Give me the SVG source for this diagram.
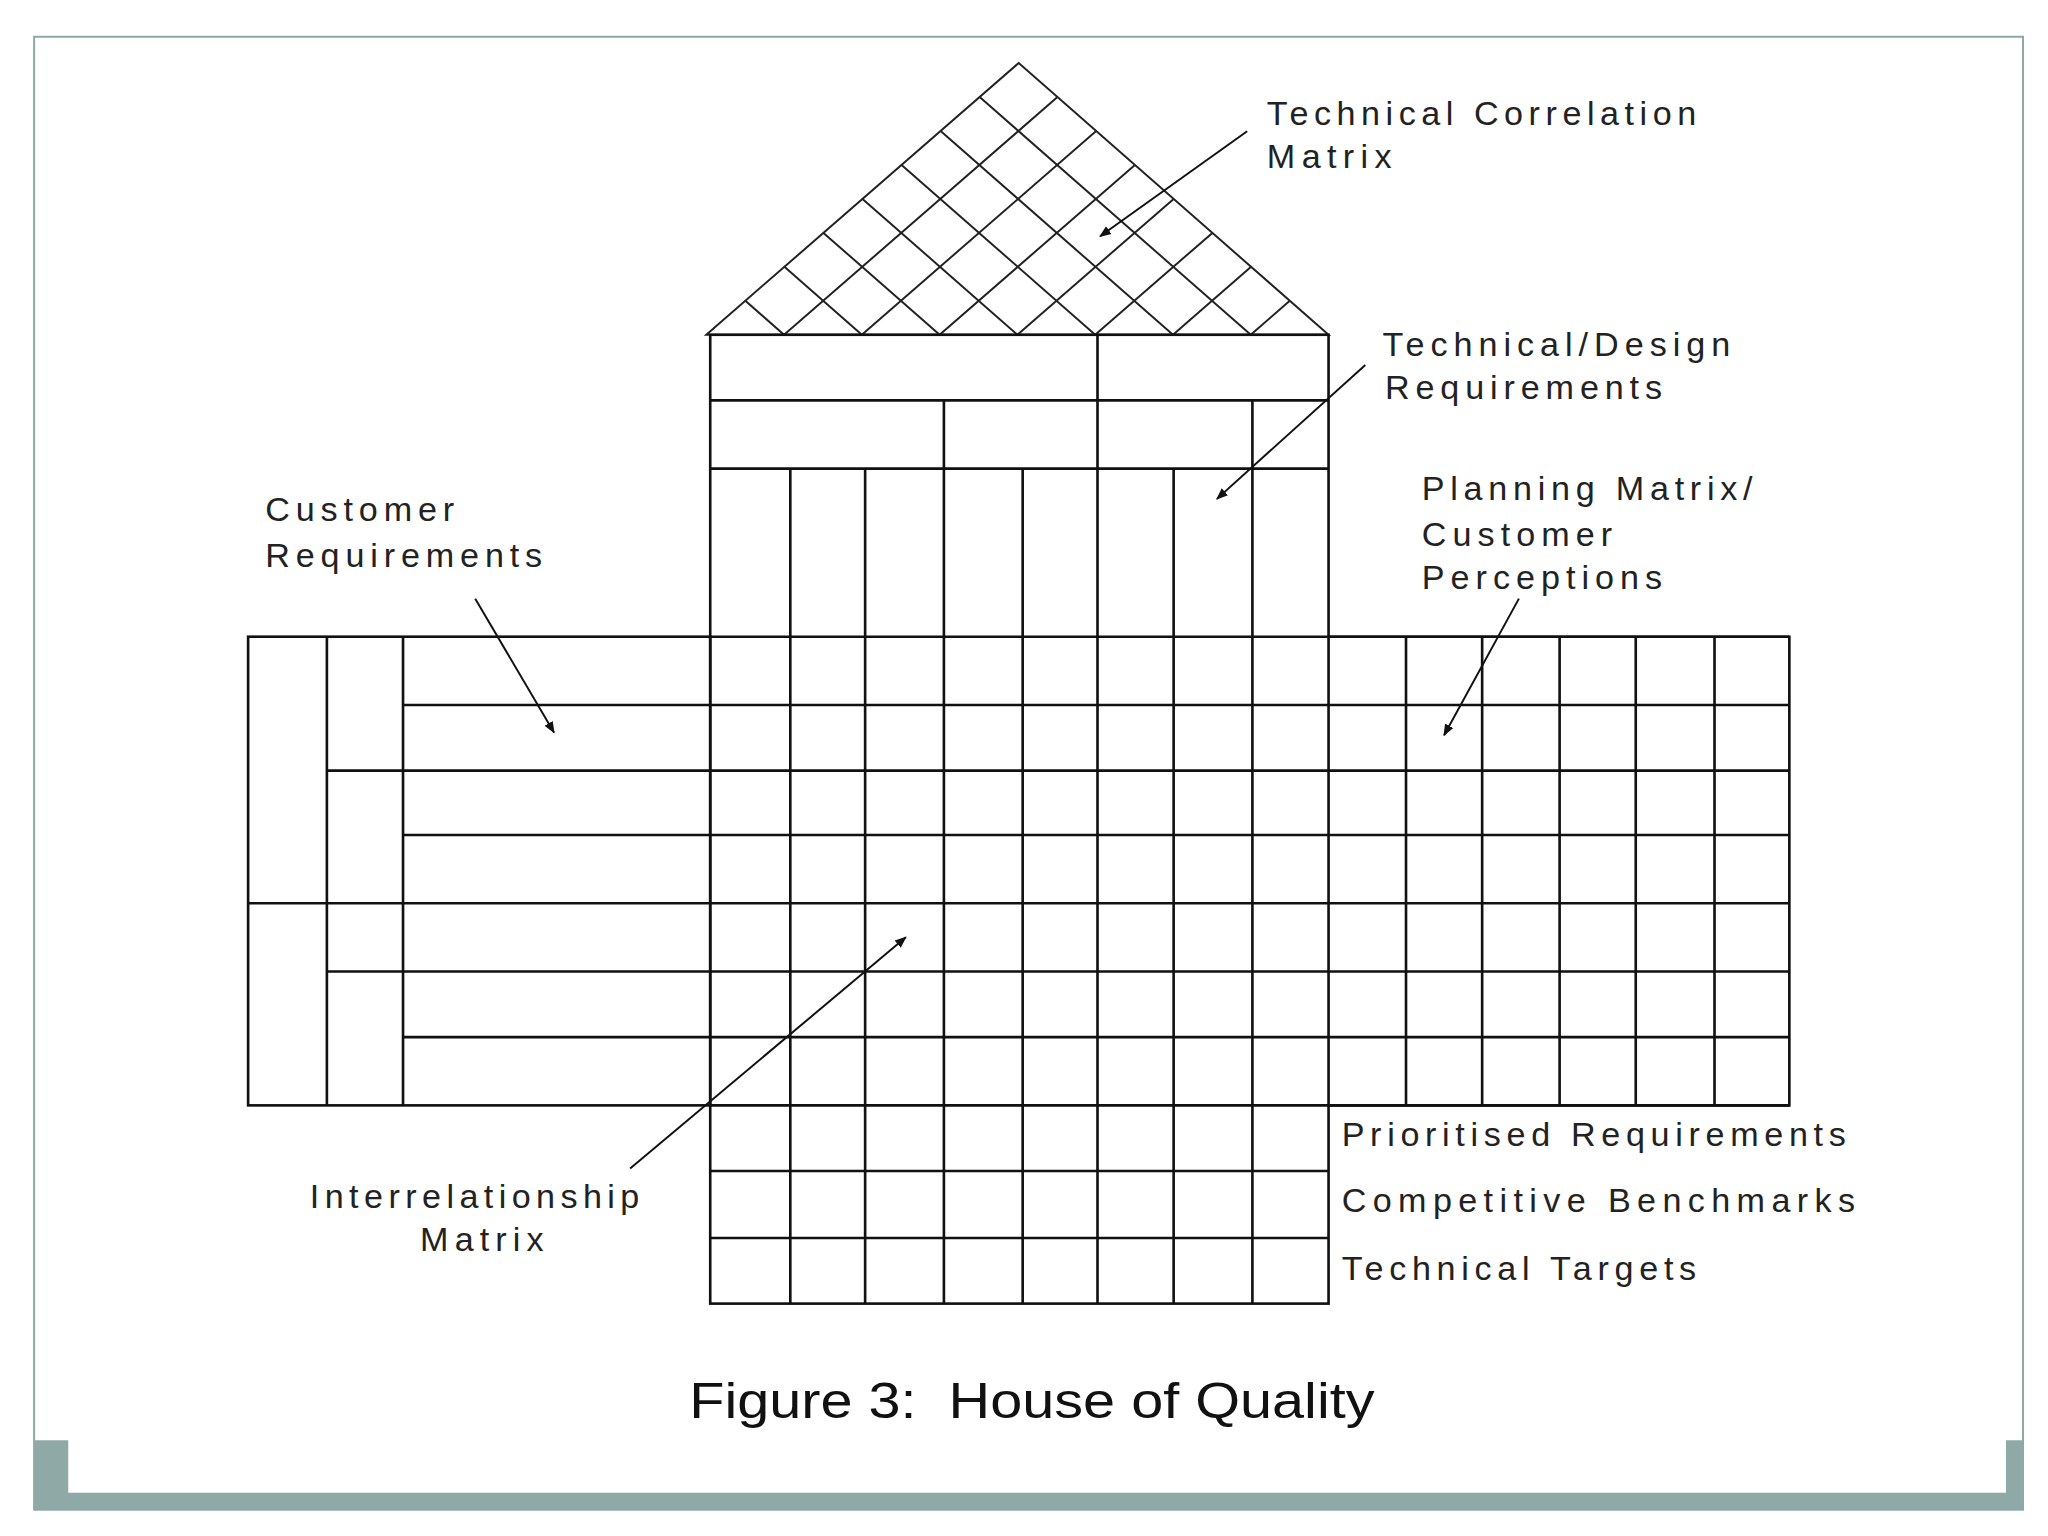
<svg xmlns="http://www.w3.org/2000/svg" width="2048" height="1536" viewBox="0 0 2048 1536">
<style>
.g{stroke:#111;stroke-width:2;fill:none}
.r{stroke:#222;stroke-width:1.5;fill:none}
.a{stroke:#111;stroke-width:1.5;fill:none;marker-end:url(#ah)}
.t{font-family:"Liberation Sans",Arial,sans-serif;font-size:26px;fill:#222}
.c{font-family:"Liberation Sans",Arial,sans-serif;font-size:38px;fill:#111}
</style>
<defs>
<marker id="ah" viewBox="0 0 10 10" refX="9" refY="5" markerWidth="6" markerHeight="6" orient="auto"><path d="M0,1 L10,5 L0,9 z" fill="#111"/></marker>
</defs>
<rect width="2048" height="1536" fill="#fff"/>
<g transform="scale(1.3128)">
<g id="frame">
<rect x="26" y="28" width="1515" height="1122" fill="none" stroke="#8aa8a6" stroke-width="1.5"/>
<path d="M26,1097 H52 V1137 H1528 V1097 H1541 V1150 H26 Z" fill="#8fa9a7"/>
</g>
<g id="roof" class="r">
<path d="M538,255 L776,48 L1012,255 Z"/>
<path d="M597.25,255 L805.5,73.9 M656.5,255 L835,99.75 M715.75,255 L864.5,125.6 M775,255 L894,151.5 M834.25,255 L923.5,177.4 M893.5,255 L953,203.25 M952.75,255 L982.5,229.1"/>
<path d="M597.25,255 L567.75,229.1 M656.5,255 L597.5,203.25 M715.75,255 L627.25,177.4 M775,255 L657,151.5 M834.25,255 L686.75,125.6 M893.5,255 L716.5,99.75 M952.75,255 L746.25,73.9"/>
</g>
<g id="main" class="g">
<rect x="541" y="255" width="471" height="738"/>
<path d="M541,305 H1012 M541,357 H1012 M836,255 V357 M719,305 V357 M954,305 V357"/>
<path d="M602,357 V993 M659,357 V993 M719,357 V993 M779,357 V993 M836,357 V993 M894,357 V993 M954,357 V993"/>
<path d="M541,892 H1012 M541,943 H1012"/>
</g>
<g id="left" class="g">
<rect x="189" y="485" width="352" height="357"/>
<path d="M249,485 V842 M307,485 V842"/>
<path d="M307,537 H541 M249,587 H541 M307,636 H541 M189,688 H541 M249,740 H541 M307,790 H541"/>
</g>
<g id="center" class="g">
<path d="M541,537 H1363 M541,587 H1363 M541,636 H1363 M541,688 H1363 M541,740 H1363 M541,790 H1363 M541,485 H1363 M541,842 H1363"/>
</g>
<g id="right" class="g">
<path d="M1012,485 H1363 V842 H1012 M1071,485 V842 M1129,485 V842 M1188,485 V842 M1246,485 V842 M1306,485 V842"/>
</g>
<g id="connectors">
<path class="a" d="M950,100 L838,180"/>
<path class="a" d="M1040,278 L927,380"/>
<path class="a" d="M362,456 L422,558"/>
<path class="a" d="M1157,456 L1100,560"/>
<path class="a" d="M480,890 L690,714"/>
</g>
<g id="labels">
<text class="t" x="965" y="95" textLength="327" lengthAdjust="spacing">Technical Correlation</text>
<text class="t" x="965" y="128" textLength="95" lengthAdjust="spacing">Matrix</text>
<text class="t" x="1053" y="271" textLength="265" lengthAdjust="spacing">Technical/Design</text>
<text class="t" x="1055" y="304" textLength="211" lengthAdjust="spacing">Requirements</text>
<text class="t" x="1083" y="381" textLength="252" lengthAdjust="spacing">Planning Matrix/</text>
<text class="t" x="1083" y="416" textLength="145" lengthAdjust="spacing">Customer</text>
<text class="t" x="1083" y="449" textLength="183" lengthAdjust="spacing">Perceptions</text>
<text class="t" x="202" y="397" textLength="144" lengthAdjust="spacing">Customer</text>
<text class="t" x="202" y="432" textLength="211" lengthAdjust="spacing">Requirements</text>
<text class="t" x="236" y="920" textLength="251" lengthAdjust="spacing">Interrelationship</text>
<text class="t" x="320" y="953" textLength="94" lengthAdjust="spacing">Matrix</text>
<text class="t" x="1022" y="873" textLength="384" lengthAdjust="spacing">Prioritised Requirements</text>
<text class="t" x="1022" y="923" textLength="391" lengthAdjust="spacing">Competitive Benchmarks</text>
<text class="t" x="1022" y="975" textLength="270" lengthAdjust="spacing">Technical Targets</text>
<text class="c" x="525" y="1080" textLength="522" lengthAdjust="spacingAndGlyphs" xml:space="preserve">Figure 3:  House of Quality</text>
</g>
</g>
</svg>
